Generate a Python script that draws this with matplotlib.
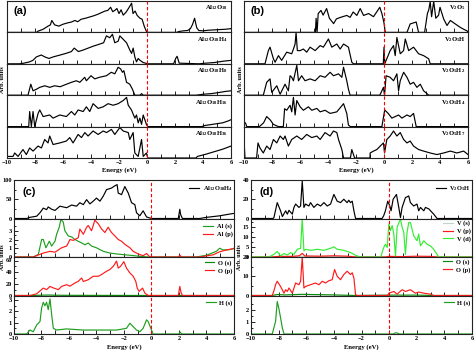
import matplotlib
matplotlib.use("Agg")
import matplotlib.pyplot as plt
from matplotlib.ticker import MultipleLocator, FixedLocator, NullLocator

plt.rcParams["font.family"] = ["Liberation Serif", "DejaVu Serif"]
plt.rcParams["font.weight"] = "bold"
plt.rcParams["mathtext.fontset"] = "custom"
plt.rcParams["mathtext.rm"] = "Liberation Serif:bold"
plt.rcParams["mathtext.bf"] = "Liberation Serif:bold"
plt.rcParams["mathtext.it"] = "Liberation Serif:bold"

W, H = 474, 350
fig = plt.figure(figsize=(W / 100, H / 100), dpi=100)

# ---------------- panel (a): Al12O18Hx total DOS (normalised heights) ----------------
a_labels = [r"$\mathbf{Al_{12}O_{18}}$", r"$\mathbf{Al_{12}O_{18}H_{4}}$",
            r"$\mathbf{Al_{12}O_{18}H_{8}}$", r"$\mathbf{Al_{12}O_{18}H_{16}}$",
            r"$\mathbf{Al_{12}O_{18}H_{36}}$"]

a1_e = [-10, -7.9, -7.78, -7.42, -7.07, -6.9, -6.8, -6.6, -6.3, -6.0, -5.7, -5.4, -5.15, -4.95,
        -4.7, -4.4, -4.1, -3.8, -3.5, -3.2, -3.0, -2.8, -2.6, -2.45, -2.3, -2.15, -2.0, -1.85,
        -1.7, -1.5, -1.3, -1.1, -1.0, -0.85, -0.7, -0.5, -0.35, -0.2, -0.05, 0.05, 2.1, 2.3,
        2.6, 2.9, 3.1, 3.25, 3.4, 3.55, 3.7, 4.0, 4.4, 4.8, 5.2, 5.6, 6.0]
a1_v = [0, 0, 0.04, 0.1, 0.2, 0.24, 0.38, 0.24, 0.2, 0.26, 0.3, 0.33, 0.38, 0.34,
        0.42, 0.45, 0.49, 0.53, 0.58, 0.64, 0.68, 0.7, 0.8, 0.66, 0.7, 0.76, 0.6, 0.72,
        0.55, 0.64, 0.78, 0.93, 0.6, 0.68, 0.54, 0.45, 0.42, 0.2, 0.04, 0, 0, 0.03,
        0.05, 0.06, 0.12, 0.25, 0.45, 0.15, 0.06, 0.05, 0.07, 0.08, 0.09, 0.1, 0.12]

a2_e = [-10, -9.1, -8.8, -8.4, -8.15, -7.9, -7.55, -7.3, -7.0, -6.7, -6.2, -5.8, -5.4, -5.2,
        -4.9, -4.55, -4.2, -3.85, -3.5, -3.1, -2.9, -2.66, -2.47, -2.3, -2.06, -1.94, -1.7,
        -1.46, -1.23, -1.1, -0.99, -0.87, -0.75, -0.63, -0.5, -0.27, 0.05, 1.9, 2.05, 2.15,
        2.3, 3.7, 4.2, 4.8, 5.4, 6.0]
a2_v = [0, 0, 0.02, 0.06, 0.11, 0.22, 0.28, 0.22, 0.17, 0.22, 0.28, 0.33, 0.39, 0.5,
        0.39, 0.44, 0.5, 0.56, 0.61, 0.67, 0.89, 0.83, 0.94, 0.67, 0.72, 0.89, 0.78,
        0.67, 0.44, 0.33, 0.5, 0.22, 0.06, 0.17, 0.11, 0.04, 0, 0, 0.17, 0.24,
        0.02, 0, 0.02, 0.04, 0.08, 0.11]

a3_e = [-10, -8.5, -8.3, -8.14, -7.9, -7.66, -7.3, -6.95, -6.6, -6.2, -5.75, -5.4, -5.05,
        -4.8, -4.45, -4.33, -4.0, -3.73, -3.4, -2.9, -2.55, -2.3, -2.06, -1.89, -1.75, -1.65,
        -1.46, -1.23, -1.04, -0.87, -0.5, -0.39, -0.27, 3.5, 4.0, 4.6, 5.2, 5.6, 6.0]
a3_v = [0, 0, 0.35, 0.14, 0.19, 0.25, 0.3, 0.25, 0.3, 0.27, 0.35, 0.41, 0.46,
        0.41, 0.57, 0.46, 0.62, 0.52, 0.57, 0.62, 0.73, 0.68, 0.89, 0.84, 0.73, 0.78,
        0.41, 0.35, 0.19, 0, 0, 0.05, 0, 0, 0.03, 0.05, 0.09, 0.12, 0.14]

a4_e = [-10, -8.45, -8.38, -8.26, -8.14, -8.02, -7.78, -7.66, -7.42, -6.95, -6.71, -6.23,
        -5.76, -5.4, -5.16, -4.92, -4.56, -4.33, -4.09, -3.85, -3.49, -3.13, -2.78, -2.42,
        -2.06, -1.7, -1.46, -1.34, -1.11, -0.87, -0.75, -0.63, -0.51, -0.39, -0.27, -0.04,
        0.05, 3.9, 4.2, 4.8, 5.4, 5.8, 6.0]
a4_v = [0, 0, 0.48, 0, 0.48, 0, 0.42, 0.53, 0.32, 0.37, 0.27, 0.37,
        0.32, 0.48, 0.37, 0.53, 0.48, 0.63, 0.48, 0.73, 0.58, 0.63, 0.73, 0.68,
        0.73, 0.83, 0.93, 0.68, 0.53, 0.27, 0.37, 0.12, 0.27, 0.07, 0.37, 0.07,
        0, 0, 0.04, 0.08, 0.12, 0.18, 0.22]

a5_e = [-10, -9.57, -9.45, -9.21, -8.86, -8.62, -8.38, -8.14, -7.78, -7.54, -7.31, -7.07,
        -6.95, -6.71, -6.23, -5.76, -5.52, -5.28, -4.92, -4.68, -4.44, -4.21, -3.85, -3.49,
        -3.13, -2.89, -2.54, -2.3, -1.94, -1.7, -1.34, -1.23, -0.99, -0.87, -0.63, -0.39,
        -0.27, -0.04, 0.05, 3.5, 3.6, 4.2, 4.8, 5.4, 6.0]
a5_v = [0.05, 0.05, 0.16, 0.05, 0.27, 0.11, 0.32, 0.22, 0.38, 0.32, 0.59, 0.48,
        0.7, 0.43, 0.48, 0.54, 0.65, 0.48, 0.75, 0.65, 0.81, 0.7, 0.86, 0.75,
        0.86, 0.81, 0.91, 0.75, 0.97, 0.86, 0.81, 0.59, 0.81, 0.16, 0.05, 0.59,
        0.05, 0.16, 0, 0, 0.05, 0.12, 0.2, 0.28, 0.38]

# ---------------- panel (b): V2O5Hx total DOS (normalised heights) ----------------
b_labels = [r"$\mathbf{V_{2}O_{5}}$", r"$\mathbf{V_{2}O_{5}H}$", r"$\mathbf{V_{2}O_{5}H_{2}}$",
            r"$\mathbf{V_{2}O_{5}H_{4}}$", r"$\mathbf{V_{2}O_{5}H_{7}}$"]

b1_e = [-10, -4.9, -4.85, -4.78, -4.7, -4.5, -4.35, -4.1, -3.9, -3.6, -3.4, -3.1, -2.66,
        -2.42, -2.2, -1.94, -1.7, -1.46, -1.1, -0.75, -0.3, -0.15, 0.0, 0.09, 1.64, 1.87,
        2.3, 2.47, 2.9, 3.0, 3.1, 3.2, 3.3, 3.4, 3.55, 3.7, 3.9, 4.0, 4.26, 4.5, 4.74, 5.09,
        5.45, 5.69, 5.93, 6.0]
b1_v = [0, 0, 0.45, 0.0, 0.6, 0.7, 0.55, 0.76, 0.45, 0.28, 0.43, 0.48, 0.54,
        0.48, 0.65, 0.54, 0.76, 0.54, 0.6, 0.5, 0.8, 0.6, 0.3, 0, 0, 0.27,
        0.33, 0, 0, 0.3, 0.6, 0.72, 0.98, 0.5, 0.99, 0.45, 0.55, 0.8, 0.43, 0.22, 0.38, 0.27,
        0.16, 0.1, 0.05, 0.0]

b2_e = [-10, -8.5, -8.26, -8.14, -7.9, -7.78, -7.54, -7.31, -6.95, -6.59, -6.47, -6.35,
        -6.28, -6.19, -5.99, -5.76, -5.52, -5.28, -4.92, -4.56, -4.33, -3.97, -3.73, -3.37,
        -3.13, -2.89, -2.54, -2.3, -2.18, -0.05, 0.0, 0.05, 0.2, 0.44, 0.68, 0.8, 0.92, 1.16,
        1.4, 1.52, 1.76, 2.11, 2.47, 2.83, 3.19, 3.3, 6.0]
b2_v = [0, 0, 0.42, 0.53, 0.16, 0.05, 0.26, 0.11, 0.37, 0.32, 0.47, 0.63,
        1.0, 0.42, 0.42, 0.47, 0.37, 0.53, 0.42, 0.58, 0.53, 0.79, 0.53, 0.63,
        0.47, 0.63, 0.53, 0.05, 0, 0, 0.53, 0.0, 0.16, 0.42, 0.58, 0.26, 0.84, 0.32,
        0.42, 0.79, 0.42, 0.53, 0.32, 0.26, 0.16, 0, 0]

b3_e = [-10, -8.62, -8.38, -8.14, -8.02, -7.66, -7.42, -7.07, -6.83, -6.71, -6.59, -6.47,
        -6.23, -6.11, -5.88, -5.64, -5.28, -4.92, -4.56, -4.21, -3.85, -3.61, -3.25, -3.01,
        -2.89, -2.66, -2.54, -2.42, -0.3, -0.15, -0.04, 0.04, 0.15, 0.44, 0.68, 0.92, 1.04,
        1.16, 1.4, 1.64, 1.87, 2.11, 2.35, 2.59, 2.83, 3.2, 6.0]
b3_v = [0, 0, 0.41, 0.52, 0.09, 0.3, 0.03, 0.35, 0.14, 0.62, 0.57, 0.46,
        0.95, 0.46, 0.62, 0.46, 0.52, 0.46, 0.62, 0.57, 0.73, 0.62, 0.68, 0.57,
        0.89, 0.46, 0.19, 0, 0, 0.14, 0.25, 0, 0.62, 0.57, 0.46, 0.68, 0.14,
        0.46, 0.73, 0.57, 0.35, 0.41, 0.25, 0.35, 0.14, 0, 0]

b4_e = [-10, -9.9, -9.8, -8.9, -8.6, -8.38, -8.14, -7.9, -7.54, -7.19, -7.1, -6.95, -6.71,
        -6.59, -6.47, -6.35, -6.23, -5.99, -5.76, -5.4, -5.16, -4.8, -4.56, -4.21, -3.85,
        -3.37, -2.89, -2.66, -2.54, -2.4, -0.15, 0.05, 0.3, 0.56, 0.8, 1.04, 1.28, 1.64,
        1.87, 2.11, 2.3, 6.0]
b4_v = [0.12, 0.12, 0, 0, 0.12, 0.32, 0.22, 0.07, 0, 0, 0.57, 0.52, 0.68,
        0.47, 0.93, 0.37, 0.83, 0.63, 0.52, 0.63, 0.52, 0.58, 0.47, 0.52, 0.42,
        0.47, 0.73, 0.42, 0.05, 0, 0, 0.53, 0.42, 0.27, 0.32, 0.37, 0.27, 0.37,
        0.32, 0.42, 0, 0]

b5_e = [-10, -9.93, -9.1, -9.0, -8.86, -8.62, -8.38, -8.14, -7.9, -7.66, -7.42, -7.19,
        -7.07, -6.83, -6.59, -6.23, -5.88, -5.52, -5.16, -4.8, -4.56, -4.21, -3.85, -3.61,
        -3.37, -3.25, -3.01, -2.89, -2.4, -2.3, -2.1, -1.0, -0.99, -0.75, -0.51, -0.27,
        -0.04, 0.04, 0.2, 0.44, 0.68, 0.92, 1.16, 1.4, 1.64, 1.87, 2.11, 2.47, 2.83, 3.3,
        3.78, 4.26, 4.74, 5.21, 5.69, 6.0]
b5_v = [0.59, 0, 0, 0.48, 0.32, 0.16, 0.38, 0.27, 0.59, 0.48, 0.7, 0.59,
        0.7, 0.38, 0.59, 0.7, 0.59, 0.75, 0.65, 0.7, 0.59, 0.81, 0.7, 0.86,
        0.81, 0.59, 0.27, 0, 0, 0.27, 0, 0, 0.16, 0.22, 0.27, 0.38,
        0.48, 0.16, 0.59, 0.7, 0.86, 0.7, 0.81, 0.59, 0.48, 0.54, 0.38, 0.27, 0.22, 0.16,
        0.11, 0.16, 0.22, 0.16, 0.22, 0.11]

# ---------------- panel (c): Al12O18H4 total and projected DOS ----------------
c_tot_e = [-10, -9.08, -8.84, -8.35, -8.11, -7.87, -7.63, -7.51, -7.26, -7.02, -6.66, -6.17,
           -5.81, -5.45, -5.21, -4.96, -4.72, -4.48, -4.24, -4.0, -3.75, -3.51, -3.27, -2.91,
           -2.66, -2.5, -2.42, -2.18, -1.94, -1.69, -1.45, -1.21, -1.09, -0.85, -0.61, -0.36,
           0, 1.95, 2.06, 2.12, 2.25, 3.5, 4.0, 4.96, 5.93, 6.0]
c_tot_v = [0, 0, 3, 6, 15, 27, 23, 30, 24, 21, 32, 28,
           35, 32, 41, 36, 49, 38, 45, 53, 45, 58, 75, 79,
           85, 88, 66, 62, 83, 66, 41, 36, 15, 7, 20, 4,
           0, 0, 24, 10, 0, 0, 3, 7, 13, 13]

c_als_e = [-10, -8.6, -8.23, -7.99, -7.87, -7.68, -7.43, -7.26, -7.02, -6.9, -6.71, -6.59,
           -6.42, -6.3, -6.05, -5.81, -5.57, -5.33, -5.08, -4.84, -4.6, -4.36, -4.0, -3.51,
           -3.03, -2.54, -2.06, -1.57, -0.85, -0.24, 3.27, 4.0, 4.72, 4.96, 5.21, 5.69, 5.93, 6.0]
c_als_v = [0, 0, 0.3, 2.0, 2.0, 1.05, 1.8, 1.25, 1.8, 2.6, 3.4, 4.3,
           4.0, 3.0, 2.4, 2.3, 2.0, 1.8, 1.6, 1.4, 1.6, 1.25, 1.05, 0.65,
           0.45, 0.35, 0.27, 0.2, 0.08, 0, 0, 0.2, 0.65, 1.0, 0.8, 0.85, 0.95, 0.95]

c_alp_e = [-10, -8.6, -7.87, -7.38, -7.02, -6.54, -6.17, -5.93, -5.69, -5.33, -5.21, -4.96,
           -4.72, -4.6, -4.36, -4.12, -3.87, -3.63, -3.39, -3.15, -2.91, -2.66, -2.42, -2.18,
           -1.94, -1.57, -1.33, -0.97, -0.61, -0.36, -0.12, 1.95, 2.06, 2.2, 3.5, 4.48, 4.96,
           5.45, 5.93, 6.0]
c_alp_v = [0, 0, 0.45, 0.65, 0.55, 1.05, 1.25, 2.0, 1.9, 2.2, 3.2, 2.6,
           3.4, 3.6, 3.0, 4.2, 3.8, 3.2, 2.8, 3.4, 2.8, 2.4, 2.0, 1.8,
           1.45, 1.05, 0.65, 0.35, 0.15, 0.4, 0, 0, 0.2, 0, 0, 0.25, 0.6,
           0.8, 0.95, 1.0]

c_os_e = [-10, -8.6, -8.0, -7.5, -7.0, -6.0, -4.0, -2.0, 0, 6]
c_os_v = [0, 0, 0.6, 0.8, 0.5, 0.3, 0.2, 0.15, 0, 0]

c_op_e = [-10, -8.84, -8.35, -7.87, -7.63, -7.38, -7.14, -6.78, -6.54, -6.17, -5.93, -5.57,
          -5.33, -5.08, -4.96, -4.6, -4.24, -3.87, -3.63, -3.27, -3.03, -2.78, -2.54, -2.42,
          -2.25, -2.01, -1.82, -1.57, -1.33, -1.14, -1.04, -0.9, -0.65, -0.48, -0.24, 1.95,
          2.06, 2.15, 2.25, 6]
c_op_v = [0, 0, 3, 12.7, 10, 15.6, 13, 10, 15.6, 18.5, 16, 21.4,
          24.3, 30, 24, 27, 33, 33, 36, 41.6, 44.5, 50, 59, 47,
          50, 58, 47, 38.7, 33, 24, 12.7, 7, 12.7, 4, 0, 0,
          15.6, 5, 0, 0]

c_hs_e = [-10, -9.08, -8.84, -8.6, -8.35, -8.11, -7.99, -7.87, -7.75, -7.63, -7.51, -7.38,
          -7.26, -7.14, -6.9, -6.17, -5.0, -3.75, -2.54, -1.82, -1.57, -1.33, -1.09, -0.85,
          -0.61, -0.36, -0.24, 0, 0.12, 2.0, 2.06, 2.2, 6]
c_hs_v = [0, 0, 0.35, 0.2, 0.8, 1.1, 2.3, 2.8, 2.5, 2.8, 2.15, 3.1,
          1.7, 0.5, 0.35, 0.45, 0.35, 0.35, 0.35, 0.5, 0.95, 0.65, 0.35, 0.2,
          0.5, 1.25, 1.1, 0.35, 0, 0, 0.2, 0, 0]

# ---------------- panel (d): V2O5H total and projected DOS ----------------
d_tot_e = [-10, -8.4, -8.34, -8.1, -7.86, -7.73, -7.49, -7.37, -7.25, -7.01, -6.89, -6.77,
           -6.53, -6.41, -6.29, -6.17, -6.05, -5.81, -5.69, -5.45, -5.2, -4.96, -4.72, -4.48,
           -4.24, -4.0, -3.76, -3.52, -3.28, -3.04, -2.92, -2.8, -2.67, -2.55, -2.43, -0.51,
           -0.39, -0.27, -0.1, 0.05, 0.14, 0.29, 0.53, 0.7, 0.82, 0.94, 1.18, 1.42, 1.54, 1.78,
           2.02, 2.14, 2.27, 2.51, 2.63, 2.87, 3.23, 3.47, 6]
d_tot_v = [0, 0, 1, 16.5, 8, 2, 8, 4.5, 8.5, 4.5, 11.5, 15,
           11.5, 13, 39, 11.5, 15, 13, 16.5, 11.5, 15, 13, 16.5, 13,
           15, 25, 18, 16.5, 20, 16.5, 19, 16.5, 18, 8, 0, 0,
           3, 8, 18, 13, 8, 20, 25, 11.5, 1, 11.5, 21.7, 23.4, 16.5, 13,
           15, 8, 11.5, 8, 11.5, 10, 4.5, 0, 0]

d_vs_e = [-10, -8.5, -8.0, -6.3, -4.0, -2.4, 0, 3.4, 6]
d_vs_v = [0, 0, 0.15, 0.4, 0.2, 0, 0.1, 0, 0]

d_vp_e = [-10, -8.5, -8.0, -7.0, -6.5, -6.29, -6.1, -5.0, -4.0, -3.0, -2.4, -0.3, 0, 1.0,
          2.0, 3.0, 3.5, 6]
d_vp_v = [0, 0, 0.3, 0.3, 0.6, 1.8, 0.5, 0.4, 0.6, 0.4, 0, 0, 0.3, 0.2,
          0.4, 0.3, 0, 0]

d_vd_e = [-10, -8.7, -8.34, -8.1, -7.86, -7.61, -7.37, -7.13, -6.89, -6.65, -6.41, -6.29,
          -6.17, -6.05, -5.69, -5.2, -4.72, -4.24, -4.0, -3.76, -3.28, -2.8, -2.55, -2.31,
          -2.1, -0.6, -0.51, -0.39, -0.27, -0.14, -0.02, 0.1, 0.22, 0.34, 0.46, 0.58, 0.82,
          0.94, 1.06, 1.18, 1.3, 1.42, 1.54, 1.66, 1.78, 2.02, 2.14, 2.27, 2.51, 2.75, 2.99,
          3.23, 3.47, 3.59, 6]
d_vd_v = [0, 0, 1.3, 2.7, 0.5, 1.7, 1.0, 2.2, 1.3, 3.8, 4.3, 19,
          3.0, 3.8, 3.3, 3.8, 3.3, 4.3, 5.0, 3.8, 3.3, 2.2, 1.3, 0.5,
          0, 0, 2.2, 4.7, 6.3, 4.7, 16.3, 13, 15.5, 11.3, 0.5, 14.7, 18.8,
          14.7, 12.2, 1.3, 12.2, 17, 17, 13.8, 10.5, 8, 11.3, 5.5, 8, 6.3, 5.5,
          3.8, 1.3, 0, 0]

d_os_e = [-10, -8.5, -8.1, -7.5, -6.3, -4.0, -2.4, 0, 2, 3.3, 6]
d_os_v = [0, 0, 0.5, 0.3, 0.6, 0.3, 0, 0.2, 0.2, 0, 0]

d_op_e = [-10, -8.46, -8.34, -8.22, -8.1, -7.86, -7.61, -7.49, -7.37, -7.25, -7.01, -6.77,
          -6.53, -6.41, -6.29, -6.17, -6.05, -5.69, -5.33, -5.08, -4.84, -4.6, -4.36, -4.12,
          -3.95, -3.76, -3.52, -3.28, -3.04, -2.8, -2.67, -2.55, -2.43, -2.3, -0.1, -0.02,
          0.34, 0.58, 0.94, 1.18, 1.54, 1.9, 2.14, 2.51, 2.99, 3.23, 6]
d_op_v = [0, 0, 2.5, 5.6, 7.4, 4.7, 1.2, 3.0, 2.1, 3.9, 1.2, 6.5,
          5.6, 7.4, 20, 3.9, 4.7, 5.6, 6.5, 5.6, 7.4, 6.5, 7.7, 8.2,
          13.5, 10, 8.2, 10.9, 12.6, 10.9, 11.8, 9.1, 0.4, 0, 0, 1.2,
          2.1, 0.7, 3.0, 2.1, 3.0, 1.2, 1.8, 1.2, 0.7, 0, 0]

d_hs_e = [-10, -8.46, -8.22, -8.1, -7.98, -7.86, -7.73, -7.61, 0.3, 0.46, 0.6, 0.75, 6]
d_hs_v = [0, 0, 1.05, 2.7, 2.1, 1.35, 0.5, 0, 0, 0.1, 0.08, 0, 0]

BLACK = "black"
RED = "#ff1a1a"
GREEN = "#1f9e1f"
DKGREEN = "#0a8a0a"
LTGREEN = "#33ee33"
GREY = "#c4d4c4"
LW = 0.85


def px_axes(x0, x1, y0, y1):
    return fig.add_axes([x0 / W, 1 - y1 / H, (x1 - x0) / W, (y1 - y0) / H])


def stack(x0, x1, y0, y1, n):
    h = (y1 - y0) / n
    return [px_axes(x0, x1, y0 + i * h, y0 + (i + 1) * h) for i in range(n)]


def style(ax, bottom_labels, left_labels):
    ax.set_xlim(-10, 6)
    ax.xaxis.set_major_locator(MultipleLocator(2))
    ax.xaxis.set_minor_locator(MultipleLocator(1))
    ax.tick_params(axis="both", which="both", direction="in", width=0.6,
                   labelsize=4.6, pad=1.5)
    ax.tick_params(axis="x", which="both", length=2.6, top=False,
                   labelbottom=bottom_labels)
    ax.tick_params(axis="y", which="major", length=2.6)
    ax.tick_params(axis="y", which="minor", length=1.5)
    if not left_labels:
        ax.yaxis.set_major_locator(NullLocator())
        ax.yaxis.set_minor_locator(NullLocator())
    for s in ax.spines.values():
        s.set_linewidth(0.8)
        s.set_color("#222222")
    for lab in ax.get_xticklabels() + ax.get_yticklabels():
        lab.set_fontweight("bold")
    ax.axvline(0, color="red", lw=0.8, ls=(0, (3, 2)), zorder=5)


# panel (a) and (b)
for (x0, x1, rows, labels, tag, lab_x) in [
    (7, 231, [(a1_e, a1_v), (a2_e, a2_v), (a3_e, a3_v), (a4_e, a4_v), (a5_e, a5_v)],
     a_labels, "(a)", 0.985),
    (244, 468, [(b1_e, b1_v), (b2_e, b2_v), (b3_e, b3_v), (b4_e, b4_v), (b5_e, b5_v)],
     b_labels, "(b)", 0.99),
]:
    axes = stack(x0, x1, 1, 158, 5)
    for i, (ax, (e, v), lab) in enumerate(zip(axes, rows, labels)):
        ax.plot(e, v, color=BLACK, lw=LW)
        ax.set_ylim(0, 1.0)
        style(ax, i == 4, False)
        ax.text(lab_x, 0.78, lab, transform=ax.transAxes, ha="right", va="center",
                fontsize=4.8)
    axes[0].text(0.03, 0.68, tag, transform=axes[0].transAxes, fontsize=8,
                 fontweight="bold", family="Liberation Sans", va="center")
    fig.text((x0 + x1) / 2 / W, 1 - 170 / H, "Energy (eV)", ha="center", va="center",
             fontsize=4.8, fontweight="bold")
    fig.text((x0 - 4) / W, 1 - 80 / H, "Arb. units", rotation=90, ha="center",
             va="center", fontsize=4.4, fontweight="bold")


def add_legend(ax, y_top):
    leg = ax.legend(loc="upper right", bbox_to_anchor=(1.0, y_top), frameon=False,
                    fontsize=4.6, handlelength=1.5, handletextpad=0.6, labelspacing=0.3,
                    borderpad=0, borderaxespad=0.2)
    for t in leg.get_texts():
        t.set_fontweight("bold")


# panel (c)
cax = stack(14, 234, 180, 334, 4)
cax[0].plot(c_tot_e, c_tot_v, color=BLACK, lw=LW, label=r"$\mathbf{Al_{12}O_{18}H_{4}}$")
cax[0].set_ylim(0, 100)
cax[0].yaxis.set_major_locator(FixedLocator([0, 50, 100]))
cax[0].yaxis.set_minor_locator(FixedLocator([25, 75]))
cax[1].plot(c_als_e, c_als_v, color=GREEN, lw=LW, label="Al (s)")
cax[1].plot(c_alp_e, c_alp_v, color=RED, lw=LW, label="Al (p)")
cax[1].set_ylim(0, 4.4)
cax[1].yaxis.set_major_locator(FixedLocator([0, 1, 2, 3]))
cax[1].yaxis.set_minor_locator(FixedLocator([0.5, 1.5, 2.5, 3.5]))
cax[2].plot(c_os_e, c_os_v, color=DKGREEN, lw=LW, label="O (s)")
cax[2].plot(c_op_e, c_op_v, color=RED, lw=LW, label="O (p)")
cax[2].set_ylim(0, 66)
cax[2].yaxis.set_major_locator(FixedLocator([0, 20, 40, 60]))
cax[2].yaxis.set_minor_locator(FixedLocator([10, 30, 50]))
cax[3].plot(c_hs_e, c_hs_v, color=GREEN, lw=LW, label="H (s)")
cax[3].set_ylim(0, 3.4)
cax[3].yaxis.set_major_locator(FixedLocator([0, 1, 2, 3]))
cax[3].yaxis.set_minor_locator(FixedLocator([0.5, 1.5, 2.5]))
for i, ax in enumerate(cax):
    style(ax, i == 3, True)
add_legend(cax[0], 0.92)
add_legend(cax[1], 0.9)
add_legend(cax[2], 0.95)
add_legend(cax[3], 0.92)
cax[0].text(0.04, 0.7, "(c)", transform=cax[0].transAxes, fontsize=8,
            fontweight="bold", family="Liberation Sans", va="center")

# panel (d)
dax = stack(251, 472, 180, 334, 4)
dax[0].plot(d_tot_e, d_tot_v, color=BLACK, lw=LW, label=r"$\mathbf{V_{2}O_{5}H}$")
dax[0].set_ylim(0, 40)
dax[0].yaxis.set_major_locator(FixedLocator([0, 20, 40]))
dax[0].yaxis.set_minor_locator(FixedLocator([10, 30]))
dax[1].plot(d_vs_e, d_vs_v, color=GREY, lw=LW, label="V (s)")
dax[1].plot(d_vp_e, d_vp_v, color=RED, lw=LW, label="V (p)")
dax[1].plot(d_vd_e, d_vd_v, color=LTGREEN, lw=LW, label="V (d)")
dax[1].set_ylim(0, 19)
dax[1].yaxis.set_major_locator(FixedLocator([0, 5, 10, 15]))
dax[1].yaxis.set_minor_locator(FixedLocator([2.5, 7.5, 12.5, 17.5]))
dax[2].plot(d_os_e, d_os_v, color=DKGREEN, lw=LW, label="O (s)")
dax[2].plot(d_op_e, d_op_v, color=RED, lw=LW, label="O (p)")
dax[2].set_ylim(0, 20)
dax[2].yaxis.set_major_locator(FixedLocator([0, 10, 20]))
dax[2].yaxis.set_minor_locator(FixedLocator([5, 15]))
dax[3].plot(d_hs_e, d_hs_v, color=GREEN, lw=LW, label="H (s)")
dax[3].set_ylim(0, 3.2)
dax[3].yaxis.set_major_locator(FixedLocator([0, 1, 2]))
dax[3].yaxis.set_minor_locator(FixedLocator([0.5, 1.5, 2.5]))
for i, ax in enumerate(dax):
    style(ax, i == 3, True)
add_legend(dax[0], 0.92)
add_legend(dax[1], 0.98)
add_legend(dax[2], 0.98)
add_legend(dax[3], 0.92)
dax[0].text(0.04, 0.7, "(d)", transform=dax[0].transAxes, fontsize=8,
            fontweight="bold", family="Liberation Sans", va="center")

for (x0, x1, ylab_x) in [(14, 234, 3), (251, 472, 239.5)]:
    fig.text((x0 + x1) / 2 / W, 1 - 347 / H, "Energy (eV)", ha="center", va="center",
             fontsize=4.8, fontweight="bold")
    fig.text(ylab_x / W, 1 - 257 / H, "Arb. units", rotation=90, ha="center",
             va="center", fontsize=4.2, fontweight="bold")

fig.savefig("out.png", dpi=100)
